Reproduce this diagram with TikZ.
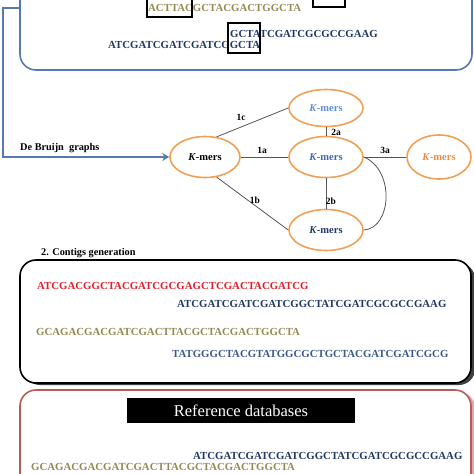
\documentclass[tikz,border=0pt]{standalone}
\usepackage{fontspec}
\setmainfont{Liberation Serif}
\usetikzlibrary{arrows.meta,shapes.geometric}
\definecolor{frameblue}{HTML}{5679B0}
\definecolor{khaki}{HTML}{948A54}
\definecolor{navy}{HTML}{1F3864}
\definecolor{lblue}{HTML}{5B8ED3}
\definecolor{mblue}{HTML}{3F66A8}
\definecolor{slate}{HTML}{3D5A8C}
\definecolor{kor}{HTML}{F0A055}
\definecolor{korT}{HTML}{EE8A3A}
\definecolor{seqred}{HTML}{E3202B}
\definecolor{framered}{HTML}{B85A58}
\definecolor{edgegray}{HTML}{555555}
\tikzset{
  seq/.style={font=\fontsize{10.8}{12}\selectfont\bfseries, inner sep=0pt, anchor=west},
  subbox/.style={draw=black, line width=1.2pt, inner sep=0pt},
  kmer/.style={draw=kor, line width=1.6pt, shape=ellipse, font=\fontsize{10.5}{12}\selectfont\bfseries},
  elabel/.style={font=\fontsize{9.5}{11}\selectfont\bfseries, inner sep=1pt},
  edge/.style={draw=edgegray, line width=0.8pt},
  hdr/.style={font=\fontsize{10.3}{12}\selectfont\bfseries, inner sep=0pt, anchor=west},
}
\begin{document}
\begin{tikzpicture}[x=1pt,y=-1pt]
\useasboundingbox (0,0) rectangle (474,474);
% top box
\draw[frameblue, line width=1.6pt, rounded corners=16pt] (20,-30) rectangle (472,70);
\node[seq, text=khaki] (t1) at (148,8) {ACTTACGCTACGACTGGCTA};
\node[subbox, minimum width=45pt, minimum height=20pt] (b1) at (169.5,7) {};
\node[subbox, minimum width=32pt, minimum height=16pt] (b2) at (329,-1) {};
\node[seq, text=navy] (t2) at (230,34) {GCTATCGATCGCGCCGAAG};
\node[seq, text=navy] (t3) at (108,45) {ATCGATCGATCGATCGGCTA};
\node[subbox, minimum width=32pt, minimum height=30pt] (b3) at (244,38) {};
\coordinate (topleft) at (20,8);
% graph
\node[kmer, minimum width=70pt, minimum height=41pt] (k0) at (205,157) {\textit{K}-mers};
\node[kmer, minimum width=74pt, minimum height=37pt, text=lblue] (k1) at (326,108) {\textit{K}-mers};
\node[kmer, minimum width=74pt, minimum height=41pt, text=mblue] (k2) at (326,157) {\textit{K}-mers};
\node[kmer, minimum width=64pt, minimum height=44pt, text=korT] (k3) at (439,157) {\textit{K}-mers};
\node[kmer, minimum width=74pt, minimum height=41pt, text=navy] (k4) at (326,230) {\textit{K}-mers};
\draw[frameblue, line width=2.2pt, -{Stealth[length=7pt,width=8pt]}] (topleft) -- (3,8) -- (3,157) -- (k0.west);
\node[hdr] (dbg) at (20,148) {De Bruijn\ \ graphs};
\draw[edge] (k0.60) -- (k1.west);
\draw[edge] (k0.east) -- (k2.west);
\draw[edge] (k0.-60) -- (k4.west);
\draw[edge] (k1.south) -- (k2.north);
\draw[edge] (k2.south) -- (k4.north);
\draw[edge] (k2.east) -- (k3.west);
\draw[edge] (k2.east) .. controls (395,170) and (392,228) .. (k4.east);
\node[elabel] (l1c) at (241,117) {1c};
\node[elabel] (l1a) at (262,150) {1a};
\node[elabel] (l1b) at (255,200) {1b};
\node[elabel] (l2a) at (336,132) {2a};
\node[elabel] (l2b) at (331,201) {2b};
\node[elabel] (l3a) at (385,150) {3a};
% contigs
\node[hdr] (cg) at (41,253) {2. Contigs generation};
\fill[black!75, rounded corners=16pt] (24,263) rectangle (475,385);
\draw[black, fill=white, line width=1.6pt, rounded corners=16pt] (20,260) rectangle (471,383);
\node[seq, text=seqred] (c1) at (37,286) {ATCGACGGCTACGATCGCGAGCTCGACTACGATCG};
\node[seq, text=navy] (c2) at (177,304) {ATCGATCGATCGATCGGCTATCGATCGCGCCGAAG};
\node[seq, text=khaki] (c3) at (36,332) {GCAGACGACGATCGACTTACGCTACGACTGGCTA};
\node[seq, text=slate] (c4) at (172,354) {TATGGGCTACGTATGGCGCTGCTACGATCGATCGCG};
% reference
\fill[framered!50, rounded corners=16pt] (23,392) rectangle (475,520);
\draw[framered, fill=white, line width=1.6pt, rounded corners=16pt] (20,390) rectangle (471,520);
\node[fill=black, text=white, minimum width=228pt, minimum height=25pt, inner sep=0pt, font=\fontsize{16.5}{18}\selectfont] (refdb) at (241,410.5) {Reference databases};
\node[seq, text=navy] (r1) at (193,456) {ATCGATCGATCGATCGGCTATCGATCGCGCCGAAG};
\node[seq, text=khaki] (r2) at (31,467) {GCAGACGACGATCGACTTACGCTACGACTGGCTA};
\end{tikzpicture}
\end{document}
